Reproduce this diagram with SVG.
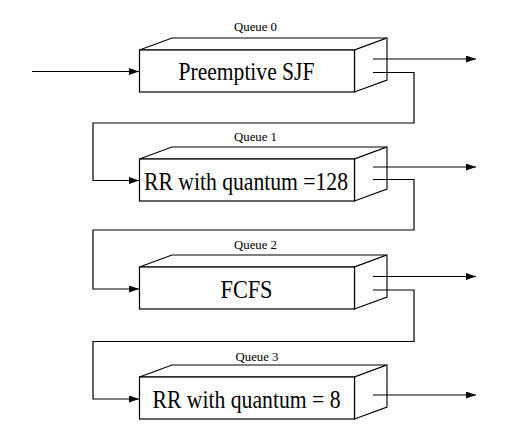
<svg xmlns="http://www.w3.org/2000/svg" width="513" height="436" viewBox="0 0 513 436">
<defs>
<style>
.f{fill:#fff;stroke:#000;stroke-width:1.2}
.s{fill:#fff;stroke:#000;stroke-width:1.2;stroke-linejoin:miter}
.bk{stroke:#777;stroke-width:1.2}
.t{font-family:"Liberation Serif","Times New Roman",serif;font-size:25px;text-anchor:middle;fill:#000}
.q{font-family:"Liberation Serif","Times New Roman",serif;font-size:12.5px;text-anchor:middle;fill:#000}
.c{fill:none;stroke:#000;stroke-width:1.2}
</style>
<marker id="ah" markerUnits="userSpaceOnUse" markerWidth="11" markerHeight="8" refX="10" refY="3.5" orient="auto">
<path d="M0,0 L10,3.5 L0,7 z" fill="#000"/>
</marker>
</defs>
<rect width="513" height="436" fill="#fff"/>

<g id="queue0">
<polygon class="s" points="139.5,50 172,38 387,38 354.5,50"/>
<polygon class="s" points="354.5,50 387,38 387,80 354.5,92"/>
<line class="bk" x1="387" y1="38" x2="387" y2="80"/>
<rect class="f" x="139.5" y="50" width="215" height="42"/>
<text class="t" x="246.5" y="80" textLength="136" lengthAdjust="spacingAndGlyphs">Preemptive SJF</text>
<text class="q" x="255.5" y="31" textLength="43" lengthAdjust="spacingAndGlyphs">Queue 0</text>
</g>

<g id="queue1">
<polygon class="s" points="139.5,159 172,147 387,147 354.5,159"/>
<polygon class="s" points="354.5,159 387,147 387,189 354.5,201"/>
<line class="bk" x1="387" y1="147" x2="387" y2="189"/>
<rect class="f" x="139.5" y="159" width="215" height="42"/>
<text class="t" x="246" y="189.5" textLength="204" lengthAdjust="spacingAndGlyphs">RR with quantum =128</text>
<text class="q" x="255.5" y="140.5" textLength="43" lengthAdjust="spacingAndGlyphs">Queue 1</text>
</g>

<g id="queue2">
<polygon class="s" points="139.5,267 172,255 387,255 354.5,267"/>
<polygon class="s" points="354.5,267 387,255 387,297 354.5,309"/>
<line class="bk" x1="387" y1="255" x2="387" y2="297"/>
<rect class="f" x="139.5" y="267" width="215" height="42"/>
<text class="t" x="246.5" y="297.5" textLength="52" lengthAdjust="spacingAndGlyphs">FCFS</text>
<text class="q" x="255.5" y="248.5" textLength="43" lengthAdjust="spacingAndGlyphs">Queue 2</text>
</g>

<g id="queue3">
<polygon class="s" points="139.5,377 172,365 387,365 354.5,377"/>
<polygon class="s" points="354.5,377 387,365 387,407 354.5,419"/>
<line class="bk" x1="387" y1="365" x2="387" y2="407"/>
<rect class="f" x="139.5" y="377" width="215" height="42"/>
<text class="t" x="246.5" y="407.5" textLength="188" lengthAdjust="spacingAndGlyphs">RR with quantum = 8</text>
<text class="q" x="257" y="360.5" textLength="43" lengthAdjust="spacingAndGlyphs">Queue 3</text>
</g>

<g id="connectors">
<path class="c" d="M32,71.5 H139" marker-end="url(#ah)"/>
<path class="c" d="M373,59 H476" marker-end="url(#ah)"/>
<path class="c" d="M373,72.5 H414 V123 H93 V180.5 H139" marker-end="url(#ah)"/>
<path class="c" d="M373,167 H476" marker-end="url(#ah)"/>
<path class="c" d="M373,179.5 H414 V230 H93 V289 H139" marker-end="url(#ah)"/>
<path class="c" d="M373,276.5 H476" marker-end="url(#ah)"/>
<path class="c" d="M373,290 H414 V341.5 H93 V399 H139" marker-end="url(#ah)"/>
<path class="c" d="M373,395 H476" marker-end="url(#ah)"/>
</g>
</svg>
